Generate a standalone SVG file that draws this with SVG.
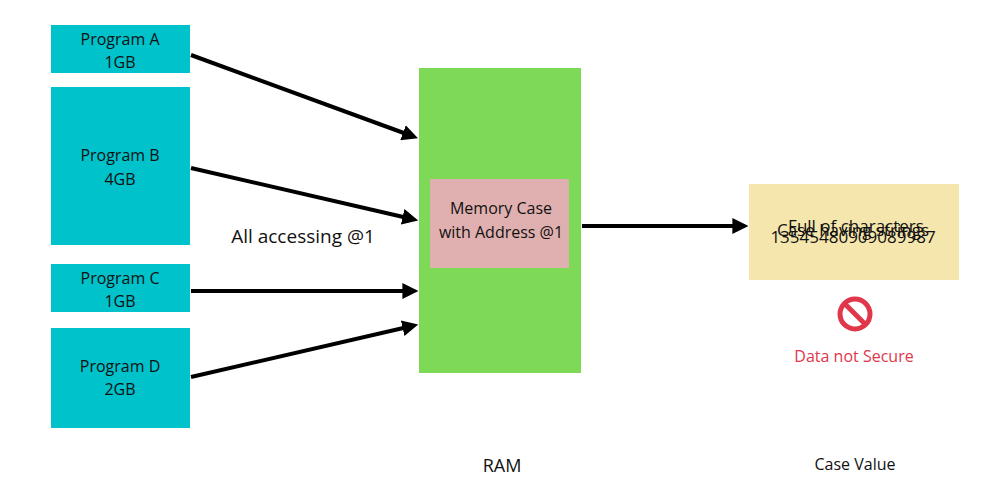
<svg xmlns="http://www.w3.org/2000/svg" width="1000" height="500" viewBox="0 0 1000 500">
<defs>
<style>
.p{fill:#00c2cb}
text{font-family:"Open Sans","Noto Sans",sans-serif;font-size:16px;fill:#111;text-anchor:middle}
.c line{stroke:#000;stroke-width:4;marker-end:url(#a)}
</style>
<marker id="a" viewBox="0 0 10 10" refX="6" refY="5" markerWidth="4" markerHeight="4" orient="auto"><path d="M0,0L10,5L0,10z" fill="#000"/></marker>
</defs>
<rect width="1000" height="500" fill="#fff"/>
<g id="progA"><rect class="p" x="51" y="25" width="139" height="48"/><text x="120" y="45">Program A</text><text x="120" y="68">1GB</text></g>
<g id="progB"><rect class="p" x="51" y="87" width="139" height="158"/><text x="120" y="161">Program B</text><text x="120" y="185">4GB</text></g>
<g id="progC"><rect class="p" x="51" y="264" width="139" height="48"/><text x="120" y="284">Program C</text><text x="120" y="307">1GB</text></g>
<g id="progD"><rect class="p" x="51" y="328" width="139" height="100"/><text x="120" y="372">Program D</text><text x="120" y="395">2GB</text></g>
<g id="ram"><rect x="419" y="68" width="162" height="305" fill="#7ed957"/><text x="502" y="472" style="font-size:18px">RAM</text></g>
<g id="mem"><rect x="430" y="179" width="139" height="89" fill="#e0b0b0"/><text x="501" y="214">Memory Case</text><text x="501" y="238">with Address @1</text></g>
<g id="caseval"><rect x="749" y="184" width="210" height="96" fill="#f5e6ad"/>
<text x="856" y="232" style="font-size:17px">Full of characters</text><text x="853" y="236" style="font-size:17px">Case having strings</text><text x="853" y="243" style="font-size:17px">13545480909089987</text>
<text x="855" y="470">Case Value</text></g>
<g id="warn"><circle cx="855" cy="314" r="15" fill="none" stroke="#e0374a" stroke-width="5"/><line x1="845" y1="304" x2="865" y2="324" stroke="#e0374a" stroke-width="5"/><text x="854" y="362" style="fill:#e0374a">Data not Secure</text></g>
<text x="303" y="243" style="font-size:19px">All accessing @1</text>
<g class="c">
<line x1="191" y1="55" x2="412" y2="136"/>
<line x1="191" y1="168" x2="412" y2="219"/>
<line x1="191" y1="291" x2="412" y2="291"/>
<line x1="191" y1="377" x2="412" y2="326"/>
<line x1="582" y1="226" x2="742" y2="226"/>
</g>
</svg>
